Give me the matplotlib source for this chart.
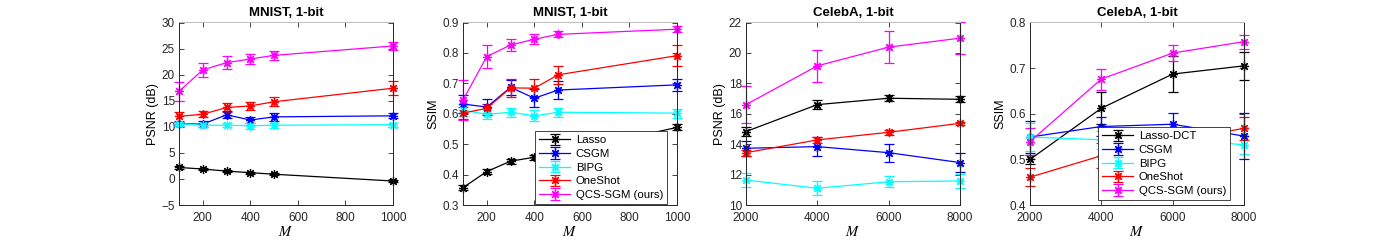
import matplotlib.pyplot as plt

plt.rcParams['font.family'] = ['Liberation Sans', 'DejaVu Sans']
plt.rcParams['mathtext.fontset'] = 'stix'

# ---- data ----
m_mnist = [100, 200, 300, 400, 500, 1000]
m_celeba = [2000, 4000, 6000, 8000]

methods = ['Lasso', 'CSGM', 'BIPG', 'OneShot', 'QCS-SGM (ours)']
methods_celeba = ['Lasso-DCT', 'CSGM', 'BIPG', 'OneShot', 'QCS-SGM (ours)']
colors = ['k', '#0000ff', '#00ffff', '#ff0000', '#ff00ff']

# MNIST PSNR
mnist_psnr = [
    [2.2, 1.9, 1.5, 1.2, 0.9, -0.4],
    [10.6, 10.5, 12.3, 11.3, 11.9, 12.1],
    [10.6, 10.3, 10.3, 10.2, 10.3, 10.4],
    [12.0, 12.4, 13.7, 14.0, 14.8, 17.4],
    [16.8, 20.9, 22.3, 23.0, 23.7, 25.5],
]
mnist_psnr_err = [
    [0.2, 0.2, 0.2, 0.2, 0.2, 0.2],
    [0.4, 0.6, 0.7, 0.5, 0.8, 0.5],
    [0.4, 0.4, 0.4, 0.6, 0.5, 0.4],
    [0.8, 0.6, 0.8, 0.8, 0.9, 1.3],
    [1.8, 1.3, 1.3, 1.0, 0.8, 0.7],
]

# MNIST SSIM
mnist_ssim = [
    [0.357, 0.41, 0.444, 0.457, 0.47, 0.555],
    [0.632, 0.622, 0.687, 0.651, 0.678, 0.695],
    [0.612, 0.598, 0.605, 0.593, 0.605, 0.602],
    [0.602, 0.618, 0.685, 0.684, 0.728, 0.791],
    [0.645, 0.788, 0.826, 0.845, 0.861, 0.878],
]
mnist_ssim_err = [
    [0.008, 0.008, 0.008, 0.008, 0.008, 0.01],
    [0.03, 0.025, 0.025, 0.03, 0.03, 0.02],
    [0.02, 0.015, 0.015, 0.018, 0.015, 0.015],
    [0.02, 0.015, 0.03, 0.03, 0.03, 0.035],
    [0.065, 0.037, 0.02, 0.016, 0.01, 0.01],
]

# CelebA PSNR
celeba_psnr = [
    [14.83, 16.6, 17.02, 16.95],
    [13.73, 13.84, 13.44, 12.79],
    [11.64, 11.1, 11.53, 11.58],
    [13.44, 14.28, 14.78, 15.37],
    [16.6, 19.15, 20.38, 20.97],
]
celeba_psnr_err = [
    [0.3, 0.3, 0.2, 0.2],
    [0.5, 0.6, 0.6, 0.65],
    [0.45, 0.45, 0.35, 0.45],
    [0.2, 0.2, 0.15, 0.1],
    [1.2, 1.05, 1.05, 1.05],
]

# CelebA SSIM
celeba_ssim = [
    [0.50, 0.612, 0.687, 0.705],
    [0.549, 0.572, 0.577, 0.551],
    [0.549, 0.543, 0.545, 0.532],
    [0.461, 0.508, 0.54, 0.568],
    [0.539, 0.676, 0.733, 0.758],
]
celeba_ssim_err = [
    [0.01, 0.035, 0.04, 0.03],
    [0.035, 0.02, 0.025, 0.05],
    [0.03, 0.02, 0.02, 0.02],
    [0.02, 0.028, 0.02, 0.025],
    [0.03, 0.023, 0.018, 0.015],
]

panels = [
    ('MNIST, 1-bit', m_mnist, mnist_psnr, mnist_psnr_err, 'PSNR (dB)',
     (-5, 30), list(range(-5, 31, 5)), [200, 400, 600, 800, 1000], None),
    ('MNIST, 1-bit', m_mnist, mnist_ssim, mnist_ssim_err, 'SSIM',
     (0.3, 0.9), [0.3, 0.4, 0.5, 0.6, 0.7, 0.8, 0.9], [200, 400, 600, 800, 1000], methods),
    ('CelebA, 1-bit', m_celeba, celeba_psnr, celeba_psnr_err, 'PSNR (dB)',
     (10, 22), list(range(10, 23, 2)), m_celeba, None),
    ('CelebA, 1-bit', m_celeba, celeba_ssim, celeba_ssim_err, 'SSIM',
     (0.4, 0.8), [0.4, 0.5, 0.6, 0.7, 0.8], m_celeba, methods_celeba),
]

fig = plt.figure(figsize=(13.76, 2.45), dpi=100)
lefts = [179, 463, 746, 1030]
legend_offsets = [None, (10, 1), None, (14, 5)]

for i, (title, xs, ys, errs, ylab, ylim, yticks, xticks, labels) in enumerate(panels):
    ax = fig.add_axes([lefts[i] / 1376, 40 / 245, 214 / 1376, 182.5 / 245])
    for j in range(5):
        ax.errorbar(xs, ys[j], yerr=errs[j], color=colors[j], marker=(8, 2, 0),
                    markersize=6.5, markeredgewidth=0.9, linewidth=0.9,
                    elinewidth=0.9, capsize=3.5, capthick=0.9, clip_on=False,
                    label=labels[j] if labels else None)
    ax.set_xlim(xs[0], xs[-1])
    ax.set_ylim(*ylim)
    ax.set_xticks(xticks)
    ax.set_yticks(yticks)
    ax.set_title(title, fontsize=9.5, fontweight='bold', pad=5)
    ax.set_ylabel(ylab, fontsize=9, labelpad=2)
    ax.set_xlabel(r'$M$', fontsize=10.5, labelpad=0.5)
    ax.tick_params(direction='in', top=True, right=True, labelsize=8.5,
                   length=3.5, width=0.6, colors='#262626', pad=3)
    ax.tick_params(axis='x', pad=5)
    for sp in ax.spines.values():
        sp.set_linewidth(0.7)
        sp.set_color('#262626')
    ax.spines['top'].set_color('#bdbdbd')
    if labels:
        dx, dy = legend_offsets[i]
        leg = ax.legend(loc='lower right', bbox_to_anchor=(1 - dx / 214, dy / 182.5),
                        borderaxespad=0, fontsize=8.2, handlelength=2.7,
                        labelspacing=0.32, borderpad=0.35, handletextpad=0.5,
                        fancybox=False, framealpha=1, edgecolor='#262626')
        leg.get_frame().set_linewidth(0.6)
        leg.set_zorder(10)

fig.savefig('out.png', dpi=100)
